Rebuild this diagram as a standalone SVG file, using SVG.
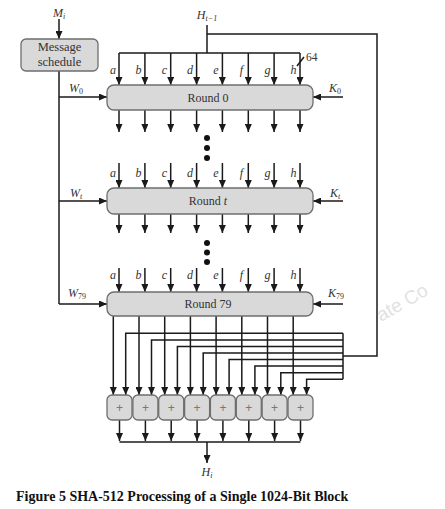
<svg xmlns="http://www.w3.org/2000/svg" width="445" height="509" viewBox="0 0 445 509">
<style>
.box{fill:#d9d9d9;stroke:#6e6e6e;stroke-width:1.3}
.ln{fill:none;stroke:#1a1a1a;stroke-width:1.5}
.ar{fill:none;stroke:#1a1a1a;stroke-width:1.5;marker-end:url(#ah)}
.t{font-family:"Liberation Serif","Times New Roman",serif;fill:#333}
.it{font-style:italic;font-size:12px}
.rl{font-size:12px;text-anchor:middle}
.lbl{font-style:italic;font-size:12px;text-anchor:middle}
.sub{font-size:8px}
.plus{font-family:"Liberation Sans",Arial,sans-serif;font-size:12px;fill:#777;text-anchor:middle}
</style>
<defs>
<marker id="ah" markerUnits="userSpaceOnUse" markerWidth="8" markerHeight="7" refX="8" refY="3.5" orient="auto">
<path d="M0,0 L8,3.5 L0,7 z" fill="#1a1a1a"/>
</marker>
</defs>
<rect width="445" height="509" fill="#fff"/>

<g id="connectors">
<!-- M_i into message schedule -->
<line class="ar" x1="59" y1="19" x2="59" y2="39"/>
<!-- message schedule W bus -->
<polyline class="ln" points="59,71 59,304"/>
<line class="ar" x1="59" y1="97" x2="107" y2="97"/>
<line class="ar" x1="59" y1="201" x2="107" y2="201"/>
<line class="ar" x1="59" y1="304" x2="107" y2="304"/>
<!-- K arrows -->
<line class="ar" x1="343" y1="97" x2="313" y2="97"/>
<line class="ar" x1="343" y1="201" x2="313" y2="201"/>
<line class="ar" x1="343" y1="304" x2="313" y2="304"/>
<!-- H_{t-1} distribution -->
<polyline class="ln" points="207,25 207,53"/>
<polyline class="ln" points="119,53 300,53"/>
<polyline class="ln" points="207,34 377,34 377,356 343,356"/>
<!-- slash mark 64 -->
<line x1="297" y1="66" x2="304" y2="57" stroke="#1a1a1a" stroke-width="1.5"/>
<!-- Round 0 inputs -->
<line class="ar" x1="119" y1="53" x2="119" y2="85"/>
<line class="ar" x1="144.9" y1="53" x2="144.9" y2="85"/>
<line class="ar" x1="170.7" y1="53" x2="170.7" y2="85"/>
<line class="ar" x1="196.6" y1="53" x2="196.6" y2="85"/>
<line class="ar" x1="222.4" y1="53" x2="222.4" y2="85"/>
<line class="ar" x1="248.3" y1="53" x2="248.3" y2="85"/>
<line class="ar" x1="274.1" y1="53" x2="274.1" y2="85"/>
<line class="ar" x1="300" y1="53" x2="300" y2="85"/>
<!-- Round 0 outputs -->
<line class="ar" x1="119" y1="110" x2="119" y2="132"/>
<line class="ar" x1="144.9" y1="110" x2="144.9" y2="132"/>
<line class="ar" x1="170.7" y1="110" x2="170.7" y2="132"/>
<line class="ar" x1="196.6" y1="110" x2="196.6" y2="132"/>
<line class="ar" x1="222.4" y1="110" x2="222.4" y2="132"/>
<line class="ar" x1="248.3" y1="110" x2="248.3" y2="132"/>
<line class="ar" x1="274.1" y1="110" x2="274.1" y2="132"/>
<line class="ar" x1="300" y1="110" x2="300" y2="132"/>
<!-- Round t inputs -->
<line class="ar" x1="119" y1="163" x2="119" y2="188"/>
<line class="ar" x1="144.9" y1="163" x2="144.9" y2="188"/>
<line class="ar" x1="170.7" y1="163" x2="170.7" y2="188"/>
<line class="ar" x1="196.6" y1="163" x2="196.6" y2="188"/>
<line class="ar" x1="222.4" y1="163" x2="222.4" y2="188"/>
<line class="ar" x1="248.3" y1="163" x2="248.3" y2="188"/>
<line class="ar" x1="274.1" y1="163" x2="274.1" y2="188"/>
<line class="ar" x1="300" y1="163" x2="300" y2="188"/>
<!-- Round t outputs -->
<line class="ar" x1="119" y1="214" x2="119" y2="233"/>
<line class="ar" x1="144.9" y1="214" x2="144.9" y2="233"/>
<line class="ar" x1="170.7" y1="214" x2="170.7" y2="233"/>
<line class="ar" x1="196.6" y1="214" x2="196.6" y2="233"/>
<line class="ar" x1="222.4" y1="214" x2="222.4" y2="233"/>
<line class="ar" x1="248.3" y1="214" x2="248.3" y2="233"/>
<line class="ar" x1="274.1" y1="214" x2="274.1" y2="233"/>
<line class="ar" x1="300" y1="214" x2="300" y2="233"/>
<!-- Round 79 inputs -->
<line class="ar" x1="119" y1="268" x2="119" y2="292"/>
<line class="ar" x1="144.9" y1="268" x2="144.9" y2="292"/>
<line class="ar" x1="170.7" y1="268" x2="170.7" y2="292"/>
<line class="ar" x1="196.6" y1="268" x2="196.6" y2="292"/>
<line class="ar" x1="222.4" y1="268" x2="222.4" y2="292"/>
<line class="ar" x1="248.3" y1="268" x2="248.3" y2="292"/>
<line class="ar" x1="274.1" y1="268" x2="274.1" y2="292"/>
<line class="ar" x1="300" y1="268" x2="300" y2="292"/>
<!-- Round 79 outputs to adders -->
<line class="ar" x1="113.3" y1="316" x2="113.3" y2="395"/>
<line class="ar" x1="139" y1="316" x2="139" y2="395"/>
<line class="ar" x1="164.7" y1="316" x2="164.7" y2="395"/>
<line class="ar" x1="190.4" y1="316" x2="190.4" y2="395"/>
<line class="ar" x1="216.1" y1="316" x2="216.1" y2="395"/>
<line class="ar" x1="241.8" y1="316" x2="241.8" y2="395"/>
<line class="ar" x1="267.5" y1="316" x2="267.5" y2="395"/>
<line class="ar" x1="293.2" y1="316" x2="293.2" y2="395"/>
<!-- feedback lines -->
<polyline class="ln" points="343,333.3 343,379.3"/>
<polyline class="ar" points="343,333.3 125.7,333.3 125.7,395"/>
<polyline class="ar" points="343,339.9 151.5,339.9 151.5,395"/>
<polyline class="ar" points="343,346.4 177.4,346.4 177.4,395"/>
<polyline class="ar" points="343,353 203.2,353 203.2,395"/>
<polyline class="ar" points="343,359.6 229.1,359.6 229.1,395"/>
<polyline class="ar" points="343,366.1 254.9,366.1 254.9,395"/>
<polyline class="ar" points="343,372.7 280.8,372.7 280.8,395"/>
<polyline class="ar" points="343,379.3 306.6,379.3 306.6,395"/>
<!-- adder outputs -->
<line class="ar" x1="119.5" y1="420" x2="119.5" y2="441"/>
<line class="ar" x1="145.4" y1="420" x2="145.4" y2="441"/>
<line class="ar" x1="171.2" y1="420" x2="171.2" y2="441"/>
<line class="ar" x1="197.1" y1="420" x2="197.1" y2="441"/>
<line class="ar" x1="222.9" y1="420" x2="222.9" y2="441"/>
<line class="ar" x1="248.8" y1="420" x2="248.8" y2="441"/>
<line class="ar" x1="274.6" y1="420" x2="274.6" y2="441"/>
<line class="ar" x1="300.5" y1="420" x2="300.5" y2="441"/>
<polyline class="ln" points="119.5,442 300.5,442"/>
<line class="ar" x1="207" y1="442" x2="207" y2="463"/>
</g>

<g id="message-schedule">
<rect class="box" x="21" y="39" width="77" height="32" rx="5"/>
<text class="t" x="59.5" y="51" font-size="12.5" text-anchor="middle">Message</text>
<text class="t" x="59.5" y="66" font-size="12.5" text-anchor="middle">schedule</text>
</g>

<g id="round0">
<rect class="box" x="107" y="85" width="206" height="25" rx="7"/>
<text class="t rl" x="208" y="101.5">Round 0</text>
</g>
<g id="roundt">
<rect class="box" x="107" y="188" width="206" height="26" rx="7"/>
<text class="t rl" x="208" y="205">Round <tspan font-style="italic">t</tspan></text>
</g>
<g id="round79">
<rect class="box" x="107" y="292" width="206" height="24" rx="7"/>
<text class="t rl" x="208" y="308">Round 79</text>
</g>

<g id="dots" fill="#111">
<circle cx="207" cy="138" r="3"/>
<circle cx="207" cy="148" r="3"/>
<circle cx="207" cy="158" r="3"/>
<circle cx="207" cy="243" r="3"/>
<circle cx="207" cy="252.5" r="3"/>
<circle cx="207" cy="262" r="3"/>
</g>

<g id="adders">
<rect class="box" x="107" y="395" width="25" height="25" rx="5"/>
<rect class="box" x="132.9" y="395" width="25" height="25" rx="5"/>
<rect class="box" x="158.7" y="395" width="25" height="25" rx="5"/>
<rect class="box" x="184.6" y="395" width="25" height="25" rx="5"/>
<rect class="box" x="210.4" y="395" width="25" height="25" rx="5"/>
<rect class="box" x="236.3" y="395" width="25" height="25" rx="5"/>
<rect class="box" x="262.1" y="395" width="25" height="25" rx="5"/>
<rect class="box" x="288" y="395" width="25" height="25" rx="5"/>
<text class="plus" x="119.5" y="412">+</text>
<text class="plus" x="145.4" y="412">+</text>
<text class="plus" x="171.2" y="412">+</text>
<text class="plus" x="197.1" y="412">+</text>
<text class="plus" x="222.9" y="412">+</text>
<text class="plus" x="248.8" y="412">+</text>
<text class="plus" x="274.6" y="412">+</text>
<text class="plus" x="300.5" y="412">+</text>
</g>

<g id="labels" class="t">
<text class="lbl" x="59" y="17">M<tspan class="sub" dy="2">i</tspan></text>
<text class="lbl" x="207" y="19">H<tspan class="sub" dy="2">t−1</tspan></text>
<text class="lbl" x="207" y="476">H<tspan class="sub" dy="2">i</tspan></text>
<text class="t" x="306" y="61" font-size="11.5">64</text>
<text class="lbl" x="76" y="92">W<tspan class="sub" dy="2" font-style="normal">0</tspan></text>
<text class="lbl" x="335" y="92">K<tspan class="sub" dy="2" font-style="normal">0</tspan></text>
<text class="lbl" x="76" y="197">W<tspan class="sub" dy="2">t</tspan></text>
<text class="lbl" x="335" y="197">K<tspan class="sub" dy="2">t</tspan></text>
<text class="lbl" x="77" y="297">W<tspan class="sub" dy="2" font-style="normal">79</tspan></text>
<text class="lbl" x="336" y="297">K<tspan class="sub" dy="2" font-style="normal">79</tspan></text>
<g class="lbl">
<text x="113" y="74">a</text><text x="138.5" y="74">b</text><text x="164.5" y="74">c</text><text x="190" y="74">d</text><text x="216" y="74">e</text><text x="241.5" y="74">f</text><text x="267.5" y="74">g</text><text x="293.5" y="74">h</text>
<text x="113" y="177">a</text><text x="138.5" y="177">b</text><text x="164.5" y="177">c</text><text x="190" y="177">d</text><text x="216" y="177">e</text><text x="241.5" y="177">f</text><text x="267.5" y="177">g</text><text x="293.5" y="177">h</text>
<text x="113" y="279">a</text><text x="138.5" y="279">b</text><text x="164.5" y="279">c</text><text x="190" y="279">d</text><text x="216" y="279">e</text><text x="241.5" y="279">f</text><text x="267.5" y="279">g</text><text x="293.5" y="279">h</text>
</g>
</g>

<text x="381" y="322" transform="rotate(-30 381 322)" font-family="Liberation Sans,Arial,sans-serif" font-size="19" fill="#e2e2e2">ate Co</text>

<text x="16" y="501" font-family="Liberation Serif,'Times New Roman',serif" font-size="14" font-weight="bold" fill="#111">Figure 5 SHA-512 Processing of a Single 1024-Bit Block</text>
</svg>
